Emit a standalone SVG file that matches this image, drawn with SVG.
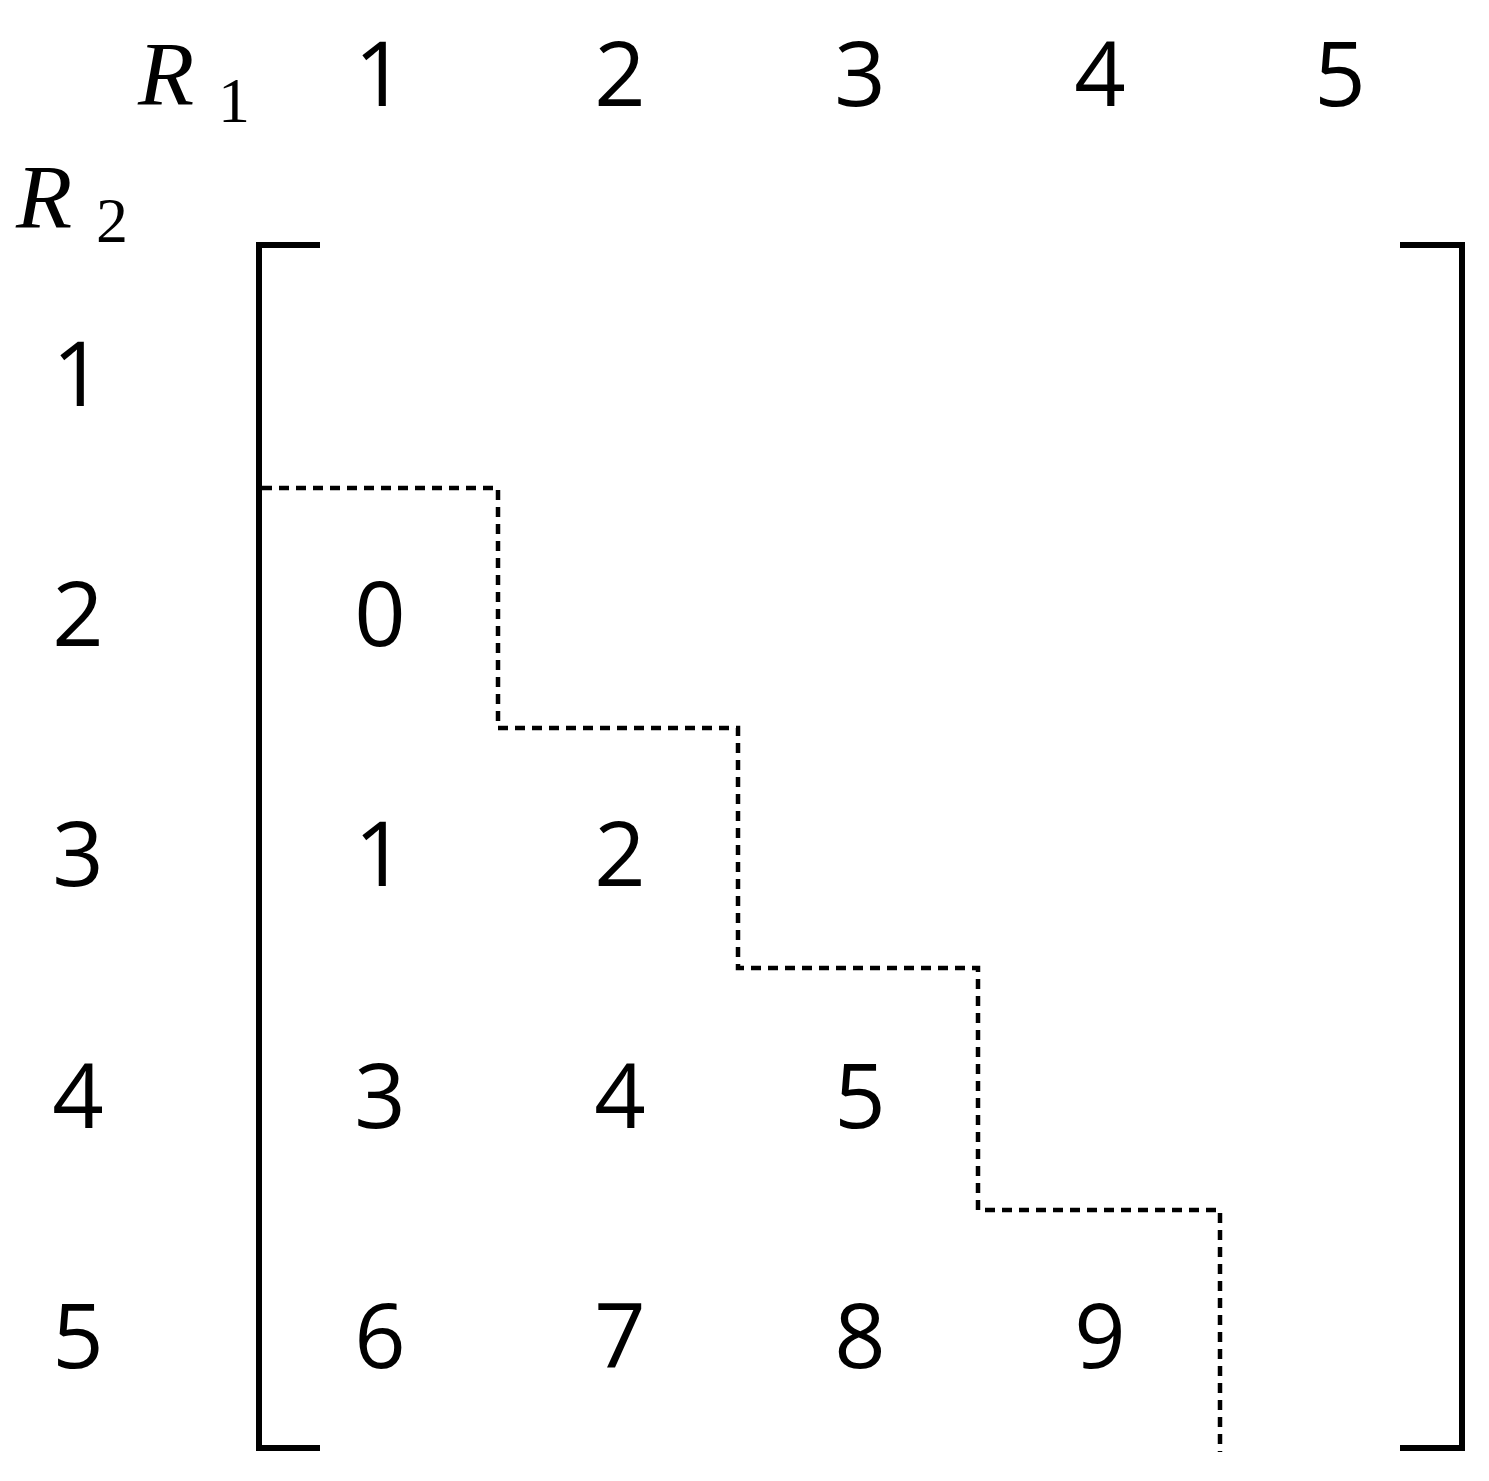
<svg xmlns="http://www.w3.org/2000/svg" width="1489" height="1481" viewBox="0 0 1489 1481">
<style>
.d{font-family:"Open Sans","Liberation Sans",sans-serif;font-size:90px;text-anchor:middle;fill:#000}
.r{font-family:"Liberation Serif",serif;font-style:italic;font-size:92px;fill:#000}
.s{font-family:"Liberation Serif",serif;font-size:64px;fill:#000}
</style>
<rect width="1489" height="1481" fill="#fff"/>
<g id="header">
<text class="r" x="138" y="105">R</text><text class="s" x="218" y="122">1</text>
<text class="r" x="16" y="228">R</text><text class="s" x="96" y="242">2</text>
<text class="d" x="380" y="106">1</text><text class="d" x="620" y="106">2</text><text class="d" x="860" y="106">3</text><text class="d" x="1100" y="106">4</text><text class="d" x="1340" y="106">5</text>
<text class="d" x="78" y="406">1</text><text class="d" x="78" y="646">2</text><text class="d" x="78" y="886">3</text><text class="d" x="78" y="1128">4</text><text class="d" x="78" y="1368">5</text>
</g>
<g id="cells">
<text class="d" x="380" y="646">0</text>
<text class="d" x="380" y="886">1</text><text class="d" x="620" y="886">2</text>
<text class="d" x="380" y="1128">3</text><text class="d" x="620" y="1128">4</text><text class="d" x="860" y="1128">5</text>
<text class="d" x="380" y="1368">6</text><text class="d" x="620" y="1368">7</text><text class="d" x="860" y="1368">8</text><text class="d" x="1100" y="1368">9</text>
</g>
<g id="connectors" fill="none" stroke="#000">
<path d="M320,245 H259 V1448 H320" stroke-width="6"/>
<path d="M1400,245 H1462 V1448 H1400" stroke-width="6"/>
<path d="M262,488 H498 V728 H738 V968 H978 V1210 H1220 V1452" stroke-width="4.5" stroke-dasharray="10,7"/>
</g>
</svg>
